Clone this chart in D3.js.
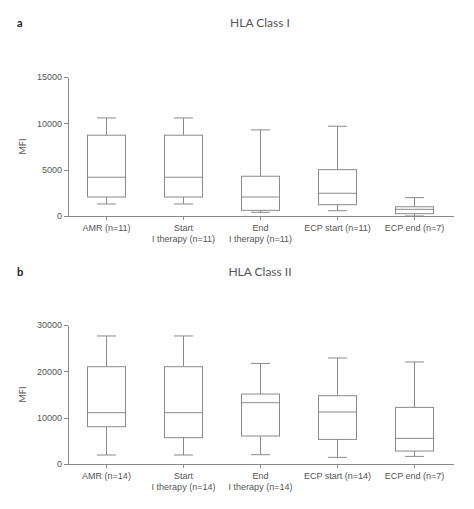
<!DOCTYPE html>
<html>
<head>
<meta charset="utf-8">
<script src="https://cdn.jsdelivr.net/npm/d3@7"></script>
<style>
  body { margin: 0; background: #fff; }
  svg { font-family: Lato, "Open Sans", sans-serif; }
  .axis path, .axis line { stroke: #8a8a8a; shape-rendering: crispEdges; }
  .axis text { fill: #555; font-size: 9px; }
  .box { fill: #fff; stroke: #8a8a8a; stroke-width: 1; }
  .whisker { stroke: #8a8a8a; stroke-width: 1; }
</style>
</head>
<body>
<div id="chart"></div>
<script>
// panel a: HLA Class I
const categoriesA = ["AMR (n=11)", "Start\nI therapy (n=11)", "End\nI therapy (n=11)", "ECP start (n=11)", "ECP end (n=7)"];
const minA = [1300, 1300, 400, 570, 0];
const q1A = [2050, 2050, 610, 1220, 250];
const medA = [4180, 4180, 2050, 2450, 720];
const q3A = [8720, 8720, 4290, 5000, 1000];
const maxA = [10580, 10580, 9290, 9690, 1980];
const ticksA = [0, 5000, 10000, 15000];

// panel b: HLA Class II
const categoriesB = ["AMR (n=14)", "Start\nI therapy (n=14)", "End\nI therapy (n=14)", "ECP start (n=14)", "ECP end (n=7)"];
const minB = [1940, 1940, 2010, 1430, 1640];
const q1B = [8050, 5680, 6040, 5310, 2800];
const medB = [11070, 11070, 13230, 11220, 5530];
const q3B = [21000, 21000, 15100, 14740, 12220];
const maxB = [27630, 27630, 21710, 22880, 22020];
const ticksB = [0, 10000, 20000, 30000];

const width = 474, height = 509;

const svg = d3.select("#chart").append("svg")
    .attr("width", width)
    .attr("height", height);

function renderPanel(opts) {
    const g = svg.append("g");

    const x = d3.scaleBand()
        .domain(opts.categories)
        .range([68, 453]);

    const y = d3.scaleLinear()
        .domain([0, opts.ticks[opts.ticks.length - 1]])
        .range([opts.bottom, opts.top]);

    // panel letter and title
    g.append("text")
        .attr("x", 17)
        .attr("y", opts.titleY)
        .attr("font-size", 11)
        .attr("font-weight", "bold")
        .attr("fill", "#222")
        .text(opts.letter);

    g.append("text")
        .attr("x", 260)
        .attr("y", opts.titleY)
        .attr("text-anchor", "middle")
        .attr("font-size", 12)
        .attr("fill", "#555")
        .text(opts.title);

    g.append("text")
        .attr("transform", "translate(26," + ((opts.top + opts.bottom) / 2) + ")rotate(-90)")
        .attr("text-anchor", "middle")
        .attr("font-size", 9)
        .attr("fill", "#555")
        .text("MFI");

    g.append("g")
        .attr("class", "axis")
        .attr("transform", "translate(68,0)")
        .call(d3.axisLeft(y).tickValues(opts.ticks).tickSize(4).tickSizeOuter(0).tickPadding(2).tickFormat(d3.format("d")));

    const xAxis = g.append("g")
        .attr("class", "axis")
        .attr("transform", "translate(0," + opts.bottom + ")")
        .call(d3.axisBottom(x).tickSize(4).tickSizeOuter(0).tickFormat(""));

    xAxis.selectAll(".tick").append("text")
        .attr("fill", "#555")
        .attr("text-anchor", "middle")
        .selectAll("tspan")
        .data(d => d.split("\n"))
        .join("tspan")
        .attr("x", 0)
        .attr("y", (d, i) => 15 + i * 10.5)
        .text(d => d);

    const bw = 38, cw = 19;
    const items = opts.categories.map((c, i) => ({
        c: c, lo: opts.min[i], q1: opts.q1[i], med: opts.med[i], q3: opts.q3[i], hi: opts.max[i]
    }));

    const box = g.selectAll(".bp")
        .data(items)
        .join("g")
        .attr("class", "bp")
        .attr("transform", d => "translate(" + (x(d.c) + x.bandwidth() / 2) + ",0)");

    box.append("line").attr("class", "whisker")
        .attr("x1", 0).attr("x2", 0)
        .attr("y1", d => y(d.hi)).attr("y2", d => y(d.lo));

    box.append("line").attr("class", "whisker")
        .attr("x1", -cw / 2).attr("x2", cw / 2)
        .attr("y1", d => y(d.hi)).attr("y2", d => y(d.hi));

    box.append("line").attr("class", "whisker")
        .attr("x1", -cw / 2).attr("x2", cw / 2)
        .attr("y1", d => y(d.lo)).attr("y2", d => y(d.lo));

    box.append("rect").attr("class", "box")
        .attr("x", -bw / 2)
        .attr("width", bw)
        .attr("y", d => y(d.q3))
        .attr("height", d => y(d.q1) - y(d.q3));

    box.append("line").attr("class", "whisker")
        .attr("x1", -bw / 2).attr("x2", bw / 2)
        .attr("y1", d => y(d.med)).attr("y2", d => y(d.med));
}

renderPanel({
    letter: "a", title: "HLA Class I", titleY: 27,
    categories: categoriesA, min: minA, q1: q1A, med: medA, q3: q3A, max: maxA,
    ticks: ticksA, top: 77, bottom: 216
});

renderPanel({
    letter: "b", title: "HLA Class II", titleY: 276,
    categories: categoriesB, min: minB, q1: q1B, med: medB, q3: q3B, max: maxB,
    ticks: ticksB, top: 325, bottom: 464
});
</script>
</body>
</html>
